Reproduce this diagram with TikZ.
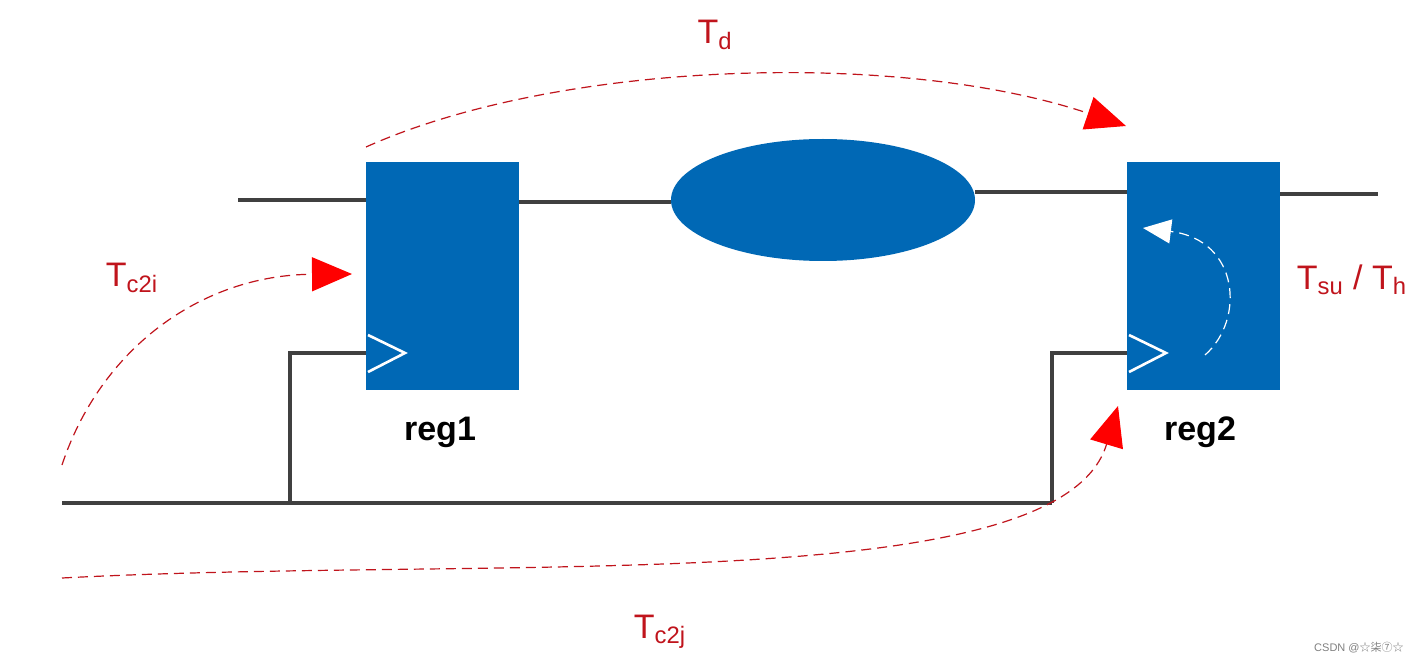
\documentclass[tikz,border=0pt]{standalone}
\usepackage{fontspec}
\setmainfont{Liberation Sans}
\newfontfamily\cjk{Noto Sans CJK SC}
\usetikzlibrary{arrows.meta}
\definecolor{regblue}{HTML}{0068B5}
\definecolor{wire}{HTML}{404040}
\definecolor{lblred}{HTML}{C0141C}
\begin{document}
\begin{tikzpicture}[x=0.5pt,y=-0.5pt,
  reg/.style={fill=regblue,draw=none},
  wireln/.style={draw=wire,line width=1.6pt},
  tpath/.style={draw=lblred,line width=0.6pt,dash pattern=on 5pt off 3pt,
    -{Triangle[length=20pt,width=17pt,fill=red,color=red]}},
  wpath/.style={draw=white,line width=0.6pt,dash pattern=on 5pt off 3pt,
    -{Triangle[length=14pt,width=12pt,fill=white,color=white]}},
  lbl/.style={text=lblred,font=\fontsize{17}{17}\selectfont,inner sep=0pt},
  regname/.style={font=\bfseries\fontsize{17}{17}\selectfont,inner sep=0pt}]
\useasboundingbox (0,0) rectangle (1418,663);
\fill[white] (0,0) rectangle (1418,663);
% wires
\coordinate (in) at (238,200);
\coordinate (out) at (1378,194);
\coordinate (clk0) at (62,503);
\coordinate (b1) at (290,503);
\coordinate (b2) at (1052,503);
\draw[wireln] (in) -- (366,200);
\draw[wireln] (519,202) -- (671,202);
\draw[wireln] (975,192) -- (1127,192);
\draw[wireln] (1280,194) -- (out);
\draw[wireln] (clk0) -- (b2);
\draw[wireln] (b1) |- (366,353);
\draw[wireln] (b2) |- (1127,353);
% blocks
\node[reg,minimum width=76.5pt,minimum height=114pt,anchor=north west] (reg1) at (366,162) {};
\node[reg,minimum width=76.5pt,minimum height=114pt,anchor=north west] (reg2) at (1127,162) {};
\fill[regblue] (823,200) ellipse[x radius=152,y radius=61];
\node (logic) at (823,200) {};
\draw[white,line width=1.3pt] (368,335) -- (405,353) -- (368,372);
\draw[white,line width=1.3pt] (1129,335) -- (1166,353) -- (1129,372);
\node[regname] (n1) at (440,432) {reg1};
\node[regname] (n2) at (1200,432) {reg2};
% timing paths
\coordinate (td0) at (366,147);
\coordinate (td1) at (1126,126);
\draw[tpath] (td0) .. controls (560,60) and (900,50) .. (td1);
\coordinate (ci0) at (62,465);
\coordinate (ci1) at (352,274);
\draw[tpath] (ci0) .. controls (100,350) and (200,275) .. (ci1);
\coordinate (cj0) at (62,578);
\coordinate (cj1) at (1118,406);
\draw[tpath] (cj0) .. controls (500,555) and (1060,600) .. (cj1);
\coordinate (s0) at (1205,355);
\coordinate (s1) at (1143,228);
\draw[wpath] (s0) .. controls (1245,320) and (1240,240) .. (s1);
% labels
\node[lbl] (ltd) at (715,35) {T\textsubscript{d}};
\node[lbl] (lci) at (132,278) {T\textsubscript{c2i}};
\node[lbl] (lsu) at (1352,280) {T\textsubscript{su} / T\textsubscript{h}};
\node[lbl] (lcj) at (660,632) {T\textsubscript{c2j}};
\node[text=gray,font=\fontsize{5.5}{6}\selectfont,anchor=east,inner sep=0pt] (wm) at (1404,648) {CSDN @{\cjk ☆柒⑦☆}};
\end{tikzpicture}
\end{document}
